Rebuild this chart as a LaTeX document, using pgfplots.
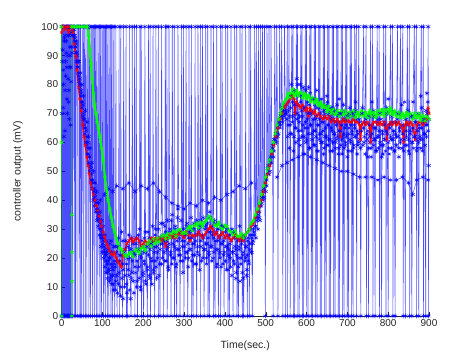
\documentclass[border=0pt]{standalone}
\usepackage{pgfplots}
\pgfplotsset{compat=1.18}
\usepackage{fontspec}
\setmainfont{Liberation Sans}
\definecolor{mblue}{rgb}{0,0,1}
\definecolor{mred}{rgb}{1,0,0}
\definecolor{mgreen}{rgb}{0,1,0}
\definecolor{mgray}{rgb}{0.15,0.15,0.15}
\begin{document}
\begin{tikzpicture}
\begin{axis}[
  scale only axis, width=367.4pt, height=289.3pt,
  xmin=0, xmax=900, ymin=0, ymax=100,
  xtick={0,100,...,900}, ytick={0,10,...,100},
  axis x line*=bottom, axis y line*=left,
  axis line style={mgray, line width=0.4pt},
  tick align=inside, major tick length=3.7pt,
  tick style={mgray, line width=0.4pt},
  clip=false,
  font=\fontsize{10}{12}\selectfont,
  tick label style={mgray, font=\fontsize{10}{12}\selectfont},
  /pgf/number format/assume math mode=true,
  xlabel={Time(sec.)}, ylabel={controller output (mV)},
  label style={mgray, font=\fontsize{10.5}{12}\selectfont},
  xlabel style={at={(axis description cs:0.5,-0.1037)}, anchor=center},
  ylabel style={at={(axis description cs:-0.1187,0.5)}, anchor=center},
  every axis plot/.append style={line join=round},
  bluemark/.style={mark=asterisk, mark size=2.4pt, mark options={draw opacity=1, line width=0.45pt}},
]
% invisible frame that sets the picture's size
\path (rel axis cs:-0.16767,-0.13481) rectangle (rel axis cs:1.12248,1.09229);
% blue main series
\addplot[mblue, line width=0.55pt, draw opacity=0.7, bluemark] coordinates {
(0,0)(0.5,100)(1,70)(1.5,0)(2,100)(2.5,92)(3,0)(3.5,100)(4,85)(4.5,0)(5,100)(5.5,62)(6,0)(6.5,100)(7,96)(7.5,0)(8,100)(8.5,78)(9,0)(9.5,100)(10,88)(10.5,0)(11,100)(11.5,95)(12,0)(12.5,100)(13,75)(13.5,0)(14,100)(14.5,90)(15,0)(15.5,100)(16,82)(16.5,0)(17,100)(17.5,97)(18,0)(18.5,100)(19,68)(19.5,0)(20,100)(20.5,93)(21,0)(21.5,100)(22,86)(22.5,0)(23,100)(23.5,98)(24,0)(24.5,100)(25,91)
(26,97)(27,0)(27.5,100)(28,99)(29.5,100)(30,97)(31,0)(31.5,100)(32,95)(33,93)(34,0)(34.5,94)(35.5,100)(36,91)(37,88)(38,0)(38.5,100)(39,86)(40,88)(41.5,100)(42,83)(43,0)(43.5,81)(44.5,100)(45,79)(46,0)(46.5,100)(47,76)(48,78)(49,0)(49.5,72)(50.5,100)(51,74)(52,69)(53,0)(53.5,100)(54,68)(55,66)(56.5,100)(57,63)(58,0)(58.5,65)(59.5,100)(60,60)(61,62)(62,0)(62.5,100)(63,56)(64,58)(65.5,100)(66,53)(67,0)(67.5,55)(68.5,100)(69,50)(70,52)(71,0)(71.5,100)(72,46)(73,49)(74.5,100)(75,44)(76,0)(76.5,46)(77.5,100)(78,40)(79,43)(80,0)(80.5,100)(81,38)(82,42)(83.5,100)(84,36)(85,0)(85.5,39)(86.5,100)(87,33)(88,37)(89,0)(89.5,100)(90,31)(91,35)(92.5,100)(93,28)(94,0)(94.5,32)(95.5,100)(96,27)(97,24)(98,0)(98.5,100)(99,29)(100,22)(101.5,100)(102,26)(103,0)(103.5,20)(104.5,100)(105,23)(106,17)(107,0)(107.5,100)(108,21)(109,15)(110.5,100)(111,22)(112,0)(112.5,13)(113.5,100)(114,19)(115,16)(116,0)(116.5,100)(117,12)(118,20)(119.5,100)(120,14)(121,0)(121.5,18)(122.5,100)(123,11)(124,21)(125,0)(125.5,100)(126,16)(127,9)(128.5,100)(129,19)(130,0)
(131,17)(132,9)(133,100)(134,22)(135,14)(136,0)(137,24)(139,11)(141,100)(141.6,0)(142,19)(144,7)(145,100)(146,21)(148,13)(149,0)(150,26)(151,16)(152,100)(154,10)(156,23)(158,100)(158.6,0)(159,18)(160,8)(161,0)(163,24)(165,14)(166,100)(167,20)(169,6)(170,0)(171,27)(172,15)(173,100)(175,12)(177,22)(179,100)(179.6,0)(180,17)(182,25)(183,100)(184,10)(185,19)(186,0)(188,28)(190,13)(192,100)(193,21)(194,9)(195,100)(195.6,0)(197,24)(199,15)(201,0)(202,19)(203,27)(204,100)(206,12)(208,22)(210,0)(211,17)(212,29)(213,100)(215,14)(216,23)(217,100)(217.6,0)(219,20)(221,11)(223,26)(224,100)(225,16)(227,24)(228,0)(229,19)(230,30)(231,100)(233,13)(235,22)(237,100)(237.6,0)(238,27)(240,18)(241,0)(242,25)(244,32)(245,100)(247,20)(249,28)(250,0)
(251,22)(253,31)(254,100)(256,19)(257,26)(258,100)(258.6,0)(260,24)(262,16)(263,100)(265,29)(267,21)(268,0)(269,33)(270,18)(271,100)(273,25)(275,20)(276,100)(276.6,0)(278,30)(280,17)(282,0)(283,23)(284,34)(285,100)(287,21)(289,27)(290,0)(291,19)(293,28)(294,100)(296,24)(297,15)(299,100)(299.6,0)(301,26)(303,20)(305,100)(306,31)(308,22)(309,0)(310,17)(311,27)(312,100)(314,23)(316,29)(318,100)(318.6,0)(319,19)(321,25)(322,0)(324,32)(326,21)(327,100)(328,26)(330,18)(331,0)(332,28)(333,22)(334,100)(336,30)(338,16)(340,100)(340.6,0)(341,24)(343,33)(345,100)(346,20)(348,27)(349,0)(350,23)(352,31)(353,100)(355,18)(356,25)(358,100)(358.6,0)(359,29)(361,21)(362,0)(363,34)(365,24)(366,100)(368,19)(370,28)(372,100)(372.6,0)(373,22)(375,32)(376,0)(377,26)(379,17)(380,100)(381,30)(383,23)(384,0)(386,27)(388,20)(389,100)(389.6,0)(391,25)(392,31)(393,100)(395,18)(397,26)(398,0)(399,22)(401,29)(402,100)(404,16)(406,24)(407,100)(407.6,0)(408,28)(410,21)(411,0)(412,25)(414,17)(415,100)(417,30)(419,22)(420,0)(421,19)(423,27)(424,100)(426,23)(428,15)(429,100)(429.6,0)(431,26)(432,20)(433,0)(435,24)(436,31)(437,100)(439,18)(441,25)(442,100)(442.6,0)(444,21)(445,13)(446,0)(448,27)(450,20)(451,100)(452,24)(454,16)(455,0)(456,26)(458,19)(459,100)(459.6,0)(461,23)(462,28)(463,100)(465,22)(466,27)(467,0)(468,25)(470,30)
(471,29)(473,100)(474,31)(476,27)(477,100)(479,34)(481,30)(482,100)(484,36)(486,33)(487,100)(489,38)(491,41)(492,100)(494,40)(496,44)(497,100)(499,0)(500,43)(502,47)(503,100)(505,49)(507,52)(508,100)(510,50)(512,55)(513,100)(515,56)(517,59)(518,0)(519,55)(521,61)(522,100)(524,62)(526,60)(527,100)(529,65)(530,0)(531,63)(533,67)(534,100)(536,66)(538,70)(539,100)(541,68)(542,0)(543,72)(545,69)(546,100)(548,71)(549,0)(550,73)
(551,70)(553,100)(553.6,0)(555,66)(556,74)(557,100)(558,69)(559,63)(560,0)(561,72)(563,80)(564,100)(565,67)(566,74)(567,100)(567.6,0)(569,62)(570,78)(571,0)(572,70)(574,65)(575,100)(576,82)(577,68)(578,100)(578.6,0)(580,73)(581,61)(582,0)(583,69)(585,76)(586,100)(587,64)(588,71)(589,100)(589.6,0)(591,66)(592,79)(593,0)(594,62)(596,72)(597,100)(598,67)(599,60)(600,100)(600.6,0)(602,74)(603,65)(604,0)(605,70)(607,58)(608,100)(609,77)(610,66)(611,100)(611.6,0)(613,63)(614,71)(615,0)(616,68)(618,59)(619,100)(620,73)(621,64)(622,100)(622.6,0)(624,69)(625,57)(626,0)(627,66)(629,72)(630,100)(631,61)(632,68)(633,100)(633.6,0)(635,63)(636,75)(637,0)(638,60)(640,67)(641,100)(642,71)(643,58)(644,100)(644.6,0)(646,65)(647,70)(648,0)(649,62)(651,74)(652,100)(653,59)(654,66)(655,100)(655.6,0)(657,69)(658,61)(659,0)(660,72)(662,64)(663,100)(664,57)(665,68)(666,100)(666.6,0)(668,63)(669,71)(670,0)(671,60)(673,66)(674,100)(675,73)(676,62)(677,100)(677.6,0)(679,58)(680,67)(681,0)(682,64)(684,70)(685,100)(686,61)(687,56)(688,100)(688.6,0)(690,68)(691,63)(692,0)(693,71)(695,59)(696,100)(697,66)(698,62)(699,100)(699.6,0)(701,69)(702,57)(703,0)(704,65)(706,72)(707,100)(708,60)(709,67)(710,100)(710.6,0)(712,63)(713,70)(714,0)(715,58)(717,66)(718,100)(719,62)(720,71)(722,100)(722.6,0)(724,64)(726,59)(728,100)(729,68)(731,61)(733,0)(734,66)(737,72)(740,100)(741,60)(743,67)(746,100)(746.6,0)(748,63)(750,55)(752,0)(753,69)(755,62)(757,100)(758,58)(760,66)(762,100)(762.6,0)(764,71)(766,61)(768,0)(769,65)(771,57)(773,100)(774,68)(776,62)(778,100)(778.6,0)(780,70)(782,59)(784,0)(785,64)(787,56)(789,100)(790,67)(792,61)(794,100)(794.6,0)(796,72)(798,63)(800,0)(801,58)(803,66)(806,100)(807,61)(809,69)(811,100)(811.6,0)(813,64)(815,57)(817,0)(818,67)(820,62)(823,100)(824,70)(826,58)(828,65)(830,100)(831,61)(833,73)(836,100)(836.6,0)(838,66)(840,59)(842,0)(843,68)(845,62)(847,100)(848,71)(850,57)(852,100)(852.6,0)(854,64)(856,69)(858,0)(859,60)(861,74)(864,100)(865,62)(867,67)(869,100)(869.6,0)(871,58)(873,70)(875,0)(876,65)(878,61)(881,100)(882,72)(884,57)(886,100)(886.6,0)(888,68)(890,63)(892,0)(893,71)(895,66)(897,74)(898,100)(898.6,0)(899,52)(900,68)
};
% blue cloud samples
\addplot[mblue, only marks, bluemark] coordinates {
(2,88)(4,72)(6,95)(8,64)(10,83)(12,91)(14,70)(16,97)(18,78)(20,86)(22,66)(24,93)(5,80)(9,97)(13,86)(17,74)(21,90)(23,81)
(30,99)(32,97)(34,93)(36,95)(38,90)(40,86)(42,88)(44,82)(46,84)(48,77)(50,80)(52,73)(54,76)(56,68)(58,71)(60,64)(62,67)(64,60)(66,62)(68,55)(70,58)(72,51)(74,53)(76,47)(78,50)(80,44)(82,46)(84,40)(86,43)(88,36)(90,39)(92,33)(94,36)(96,30)(98,33)(100,27)(102,31)(104,24)(106,28)(108,21)(110,26)(112,18)(114,23)(116,16)(118,25)(120,13)(122,22)(124,17)(126,11)(128,24)(33,96)(37,91)(41,84)(45,80)(49,74)(53,70)(57,65)(61,59)(65,56)(69,52)(73,47)(77,44)(81,41)(85,37)(89,34)(93,30)(97,28)(101,25)(105,22)(109,19)(113,15)(117,20)(121,26)(125,14)(129,18)
(131,24)(133,12)(135,19)(137,8)(139,27)(141,15)(143,21)(145,10)(147,29)(149,18)(151,6)(153,22)(155,14)(157,26)(159,11)(161,20)(163,16)(165,28)(167,9)(169,23)(171,13)(173,19)(175,25)(177,8)(179,21)(181,15)(183,27)(185,12)(187,23)(189,17)(191,30)(193,10)(195,20)(197,26)(199,14)(201,22)(203,18)(205,29)(207,11)(209,24)(211,16)(213,21)(215,27)(217,13)(219,25)(221,19)(223,31)(225,15)(227,22)(229,28)(231,17)(233,24)(235,20)(237,30)(239,14)(241,23)(243,27)(245,18)(247,25)(249,32)
(251,26)(253,19)(255,29)(257,23)(259,33)(261,17)(263,25)(265,30)(267,22)(269,27)(271,35)(273,20)(275,28)(277,24)(279,31)(281,18)(283,26)(285,37)(287,23)(289,29)(291,21)(293,33)(295,26)(297,19)(299,30)(301,24)(303,28)(305,22)(307,32)(309,25)(311,20)(313,29)(315,23)(317,34)(319,27)(321,21)(323,30)(325,25)(327,18)(329,28)(331,33)(333,24)(335,29)(337,21)(339,31)(341,26)(343,19)(345,28)(347,34)(349,23)(351,30)(353,25)(355,20)(357,32)(359,27)(361,22)(363,36)(365,29)(367,24)(369,31)(371,20)(373,27)(375,33)(377,23)(379,29)(381,18)(383,26)(385,30)(387,22)(389,28)(391,17)(393,25)(395,31)(397,21)(399,27)(401,19)(403,24)(405,30)(407,16)(409,23)(411,28)(413,20)(415,26)(417,14)(419,22)(421,29)(423,18)(425,24)(427,13)(429,21)(431,27)(433,17)(435,23)(437,12)(439,20)(441,26)(443,15)(445,22)(447,28)(449,19)(451,24)(453,14)(455,21)(457,27)(459,18)(461,25)(463,30)(465,22)(467,28)(469,26)
(472,28)(475,31)(478,33)(481,35)(484,34)(487,38)(490,39)(493,43)(496,41)(499,46)(502,45)(505,51)(508,49)(511,54)(514,53)(517,58)(520,57)(523,61)(526,63)(529,62)(532,66)(535,65)(538,69)(541,67)(544,71)(547,70)
(552,68)(554,62)(556,71)(558,58)(560,66)(562,76)(564,63)(566,69)(568,57)(570,73)(572,65)(574,60)(576,70)(578,80)(580,64)(582,67)(584,59)(586,74)(588,62)(590,69)(592,56)(594,72)(596,65)(598,78)(600,61)(602,68)(604,63)(606,73)(608,58)(610,66)(612,70)(614,61)(616,75)(618,64)(620,59)(622,68)(624,62)(626,72)(628,57)(630,66)(632,63)(634,70)(636,60)(638,67)(640,64)(642,56)(644,69)(646,62)(648,73)(650,59)(652,66)(654,61)(656,70)(658,57)(660,65)(662,68)(664,60)(666,72)(668,63)(670,58)(672,67)(674,61)(676,69)(678,56)(680,64)(682,70)(684,59)(686,66)(688,62)(690,73)(692,58)(694,65)(696,60)(698,68)(700,55)(702,63)(704,70)(706,61)(708,66)(710,57)(712,64)(714,69)(716,59)(718,65)(720,62)(722,68)(724,56)(726,63)(728,60)(730,67)(732,58)(734,64)(736,70)(738,59)(740,65)(742,62)(744,56)(746,68)(748,61)(750,64)(752,58)(754,66)(756,60)(758,55)(760,63)(762,69)(764,59)(766,65)(768,61)(770,57)(772,67)(774,62)(776,58)(778,64)(780,60)(782,68)(784,55)(786,63)(788,59)(790,66)(792,61)(794,57)(796,64)(798,70)(800,60)(802,56)(804,65)(806,62)(808,58)(810,67)(812,61)(814,64)(816,57)(818,63)(820,59)(822,68)(824,62)(826,55)(828,64)(830,60)(832,66)(834,58)(836,63)(838,57)(840,61)(842,68)(844,64)(846,59)(848,66)(850,61)(852,56)(854,63)(856,69)(858,60)(860,65)(862,58)(864,62)(866,67)(868,61)(870,57)(872,64)(874,60)(876,66)(878,62)(880,58)(882,65)(884,61)(886,67)(888,63)(890,59)(892,66)(894,62)(896,70)(898,64)
(585,80)(605,79)(625,78)(650,76)(680,75)(720,74)(760,74)(800,75)(840,74)(880,76)(895,77)
};
% blue lower bands
\addplot[mblue, line width=0.45pt, draw opacity=0.7, bluemark] coordinates {
(95,40)(105,42)(115,44)(125,43)(135,45)(150,44)(165,46)(180,43)(195,45)(210,44)(225,46)(240,43)(255,41)(270,39)(285,38)(300,37)(315,39)(330,38)(345,40)(360,39)(375,41)(390,40)(405,42)(420,43)(435,45)(450,44)(465,46)
};
\addplot[mblue, line width=0.45pt, draw opacity=0.7, bluemark] coordinates {
(528,48)(540,52)(552,53)(565,54)(580,55)(595,56)(610,55)(625,54)(640,53)(655,52)(670,51)(685,50)(700,50)(715,49)(730,48)(745,48)(760,48)(775,47)(790,48)(805,47)(820,47)(835,48)(850,46)(860,42)(870,47)(885,48)(898,47)
};
% red series
\addplot[mred, line width=1.6pt, mark=asterisk, mark size=2pt, mark options={line width=0.45pt}] coordinates {
(0,98)(2,100)(5,100)(8,99)(11,100)(14,100)(17,98)(20,100)(23,100)(26,99)(28,98)(31,94)(35,90)(38,85)(42,79)(45,75)(48,71)(52,66)(55,62)(58,59)(62,55)(65,52)(68,49)(71,46)(75,44)(78,42)(82,40)(85,38)(88,36.5)(92,34.5)(95,32.7)(98,31)(102,29)(105,27.5)(108,26)(112,24.5)(115,23.5)(118,22.5)(122,21.5)(126,21)(130,22)(134,20)(137,19)(140,18.5)(144,17.5)(147,17)(150,21)(155,23)(160,25)(165,26)(170,27)(175,25.5)(180,26.5)(185,27)(190,26)(195,24)(200,25)(205,26)(210,25)(215,26)(220,27)(225,26)(230,27)(235,26.5)(240,27)(245,26)(250,27)(255,24)(260,27)(265,28)(270,27)(275,28)(280,27)(285,28)(290,29)(295,28)(300,27)(305,29)(310,28)(315,26)(320,28)(325,27.5)(330,28)(335,29)(340,28)(345,27)(350,28)(355,29)(360,30)(365,31)(370,30)(375,28)(380,29)(385,27)(390,28)(395,29)(400,27)(405,28)(410,27)(415,26)(420,27)(425,28)(430,27)(435,26)(440,27)(445,26)(450,28)(455,29)(460,30)(465,31)(470,32)(475,34)(480,36)(485,38)(490,40)(495,43)(500,46)(505,49)(510,52)(515,56)(520,59)(525,62)(530,65)(535,68)(540,70)(545,72)(550,73)(555,74)(560,75)(565,76)(570,75)(572,70)(575,74)(580,73)(585,72)(590,73)(595,71)
(600,72)(605,69)(608,72)(612,71)(616,70)(620,71)(625,69)(630,70)(635,69)(640,68)(645,69)(650,68)(655,69)(660,67)(665,68)(670,67)(675,68)(680,67)(683,62)(686,67)(690,68)(695,67)(700,68)(705,67)(710,67)(715,68)(720,67)(725,67)(730,66)(732,61)(735,66)(740,67)(745,66)(750,67)(755,65)(757,60)(760,66)(765,67)(770,67)(775,66)(780,67)(785,66)(790,67)(795,65)(797,61)(800,66)(805,67)(810,66)(815,67)(820,66)(825,67)(830,66)(835,65)(838,60)(841,66)(845,67)(850,66)(855,67)(860,66)(866,61)(870,66)(875,67)(880,67)(885,66)(890,67)(895,68)(898,72)(900,70)
};
% green series: thin jumps at the start
\addplot[mgreen, line width=0.5pt, mark=asterisk, mark size=2.3pt, mark options={line width=0.5pt}] coordinates {
(0,100)(0.3,60)(0.5,0)(25,0)(25.1,12)(25.2,22)(25.3,35)(25.4,100)
};
\addplot[mgreen, line width=2pt, forget plot] coordinates {(0.5,0)(25,0)};
% green series
\addplot[mgreen, line width=2.2pt, mark=asterisk, mark size=2.3pt, mark options={line width=0.5pt}] coordinates {
(25.4,100)(28,100)(32,100)(36,100)(40,100)(44,100)(48,100)(52,100)(56,100)(60,100)(64,100)(66,97)(69,92)(72,87)(75,82)(78,77)(81,73)(84,70)(87,67)(90,65)(94,62)(98,58)(102,54)(106,48)(110,44)(114,40)(118,37)(122,34)(126,31)(130,29)(134,27)(138,25)(142,23.5)(146,23)(150,22)(155,21)(160,20.5)(165,21.5)(170,22)(175,20.5)(180,22.5)(185,23)(190,21.5)(195,23.5)(200,24)(205,22.5)(210,25)(215,26)(220,24)(225,26.5)(230,25)(235,27)(240,25.5)(245,27.5)(250,28)(255,26.5)(260,28.5)(265,27)(270,28.5)(275,29.5)(280,27.5)(285,29.5)(290,30)(295,28.5)(300,29)(305,28.5)(310,30.5)(315,31)(320,29.5)(325,31.5)(330,32)(335,30.5)(340,32.5)(345,31)(350,32.5)(355,33)(360,34.5)(365,34)(370,33)(375,31.5)(380,31)(385,32.5)(390,30.5)(395,30)(400,31.5)(405,31)(410,29.5)(415,29)(420,28)(425,29.5)(430,27.5)(435,27.5)(440,28.5)(445,27)(450,28)(455,29)(460,30)(465,32)(470,33)(475,35)(480,37)(485,39)(490,42)(495,45)(500,48)(505,51)(510,54)(515,57)(519,60)(524,63)(528,66)(532,68)(536,70)(540,72)(545,74)
(550,75)(555,77)(560,75.5)(565,78.5)(570,76)(575,78)(580,76)(585,77.5)(590,75.5)(595,77)(600,75)(605,76.5)(610,74)(615,75.5)(620,73.5)(625,75)(630,72.5)(635,74)(640,72)(645,73)(650,70.5)(655,72.5)(660,70)(665,71.5)(670,69.5)(675,71)(680,69)(685,71)(690,69.5)(695,71)(700,68.5)(705,70.5)(710,69)(715,71)(720,68.5)(725,70.5)(730,69)(735,71)(740,69)(745,70.5)(750,68.5)(755,71)(760,69)(765,70.5)(770,68.5)(775,71)(780,69.5)(785,71.5)(790,69)(795,71.5)(800,70)(805,72)(810,69.5)(815,71)(820,69)(825,70.5)(830,68.5)(835,70)(840,68.5)(845,70.5)(850,69)(855,70)(860,68)(865,70)(870,68.5)(875,70)(880,67.5)(885,69.5)(890,67.5)(895,69)(900,68)
};
\end{axis}
\end{tikzpicture}
\end{document}
